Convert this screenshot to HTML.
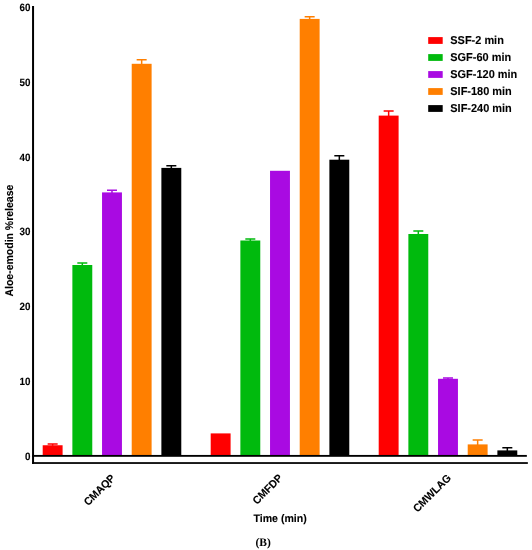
<!DOCTYPE html>
<html><head><meta charset="utf-8"><title>Chart</title>
<style>
html,body{margin:0;padding:0;background:#fff;}
svg{display:block;}
text{text-rendering:geometricPrecision;font-family:"Liberation Sans",Arial,sans-serif;font-weight:bold;fill:#000;}
.serif{font-family:"Liberation Serif","Times New Roman",serif;}
</style></head>
<body>
<svg width="532" height="550" viewBox="0 0 532 550">
<rect width="532" height="550" fill="#fff"/>
<rect x="42.70" y="445.25" width="19.9" height="10.25" fill="#ff0000"/>
<path d="M52.65 445.75V443.95M47.65 443.95H57.65" stroke="#ff0000" stroke-width="1.5" fill="none"/>
<rect x="72.37" y="265.00" width="19.9" height="190.50" fill="#00ba0d"/>
<path d="M82.32 265.50V262.90M77.32 262.90H87.32" stroke="#00ba0d" stroke-width="1.5" fill="none"/>
<rect x="102.04" y="192.40" width="19.9" height="263.10" fill="#a90ae2"/>
<path d="M111.99 192.90V190.30M106.99 190.30H116.99" stroke="#a90ae2" stroke-width="1.5" fill="none"/>
<rect x="131.71" y="63.80" width="19.9" height="391.70" fill="#ff7f00"/>
<path d="M141.66 64.30V59.80M136.66 59.80H146.66" stroke="#ff7f00" stroke-width="1.5" fill="none"/>
<rect x="161.38" y="167.90" width="19.9" height="287.60" fill="#000000"/>
<path d="M171.33 168.40V165.80M166.33 165.80H176.33" stroke="#000000" stroke-width="1.5" fill="none"/>
<rect x="210.70" y="433.40" width="19.9" height="22.10" fill="#ff0000"/>
<rect x="240.37" y="240.50" width="19.9" height="215.00" fill="#00ba0d"/>
<path d="M250.32 241.00V238.90M245.32 238.90H255.32" stroke="#00ba0d" stroke-width="1.5" fill="none"/>
<rect x="270.04" y="170.80" width="19.9" height="284.70" fill="#a90ae2"/>
<rect x="299.71" y="18.90" width="19.9" height="436.60" fill="#ff7f00"/>
<path d="M309.66 19.40V16.80M304.66 16.80H314.66" stroke="#ff7f00" stroke-width="1.5" fill="none"/>
<rect x="329.38" y="159.70" width="19.9" height="295.80" fill="#000000"/>
<path d="M339.33 160.20V155.80M334.33 155.80H344.33" stroke="#000000" stroke-width="1.5" fill="none"/>
<rect x="378.70" y="115.60" width="19.9" height="339.90" fill="#ff0000"/>
<path d="M388.65 116.10V111.00M383.65 111.00H393.65" stroke="#ff0000" stroke-width="1.5" fill="none"/>
<rect x="408.37" y="234.00" width="19.9" height="221.50" fill="#00ba0d"/>
<path d="M418.32 234.50V230.90M413.32 230.90H423.32" stroke="#00ba0d" stroke-width="1.5" fill="none"/>
<rect x="438.04" y="378.80" width="19.9" height="76.70" fill="#a90ae2"/>
<path d="M447.99 379.30V378.00M442.99 378.00H452.99" stroke="#a90ae2" stroke-width="1.5" fill="none"/>
<rect x="467.71" y="444.40" width="19.9" height="11.10" fill="#ff7f00"/>
<path d="M477.66 444.90V440.00M472.66 440.00H482.66" stroke="#ff7f00" stroke-width="1.5" fill="none"/>
<rect x="497.38" y="450.40" width="19.9" height="5.10" fill="#000000"/>
<path d="M507.33 450.90V447.70M502.33 447.70H512.33" stroke="#000000" stroke-width="1.5" fill="none"/>
<!-- axes -->
<rect x="32.05" y="6.0" width="2" height="457.9" fill="#000"/>
<rect x="32.05" y="454.95" width="494.8" height="1.85" fill="#000"/>
<rect x="32.05" y="462.15" width="495.8" height="1.75" fill="#000"/>
<text transform="translate(30.45,459.80) scale(0.9333,1)" font-size="10.5" text-anchor="end" stroke="#000" stroke-width="0.1">0</text>
<text transform="translate(30.45,385.02) scale(0.9333,1)" font-size="10.5" text-anchor="end" stroke="#000" stroke-width="0.1">10</text>
<text transform="translate(30.45,310.24) scale(0.9333,1)" font-size="10.5" text-anchor="end" stroke="#000" stroke-width="0.1">20</text>
<text transform="translate(30.45,235.46) scale(0.9333,1)" font-size="10.5" text-anchor="end" stroke="#000" stroke-width="0.1">30</text>
<text transform="translate(30.45,160.68) scale(0.9333,1)" font-size="10.5" text-anchor="end" stroke="#000" stroke-width="0.1">40</text>
<text transform="translate(30.45,85.90) scale(0.9333,1)" font-size="10.5" text-anchor="end" stroke="#000" stroke-width="0.1">50</text>
<text transform="translate(30.45,11.12) scale(0.9333,1)" font-size="10.5" text-anchor="end" stroke="#000" stroke-width="0.1">60</text>
<text transform="translate(13.20,240.60) rotate(-90) scale(0.9375,1)" font-size="11.2" text-anchor="middle" stroke="#000" stroke-width="0.1">Aloe-emodin %release</text>
<rect x="428.2" y="37.1" width="14.5" height="6.8" fill="#ff0000"/>
<text transform="translate(450.30,44.20) scale(0.9522,1)" font-size="11.5" text-anchor="start" stroke="#000" stroke-width="0.1">SSF-2 min</text>
<rect x="428.2" y="54.1" width="14.5" height="6.8" fill="#00ba0d"/>
<text transform="translate(450.30,61.20) scale(0.9522,1)" font-size="11.5" text-anchor="start" stroke="#000" stroke-width="0.1">SGF-60 min</text>
<rect x="428.2" y="71.1" width="14.5" height="6.8" fill="#a90ae2"/>
<text transform="translate(450.30,78.20) scale(0.9522,1)" font-size="11.5" text-anchor="start" stroke="#000" stroke-width="0.1">SGF-120 min</text>
<rect x="428.2" y="88.1" width="14.5" height="6.8" fill="#ff7f00"/>
<text transform="translate(450.30,95.20) scale(0.9522,1)" font-size="11.5" text-anchor="start" stroke="#000" stroke-width="0.1">SIF-180 min</text>
<rect x="428.2" y="105.1" width="14.5" height="6.8" fill="#000000"/>
<text transform="translate(450.30,112.20) scale(0.9522,1)" font-size="11.5" text-anchor="start" stroke="#000" stroke-width="0.1">SIF-240 min</text>
<text transform="translate(115.80,478.70) rotate(-45) scale(0.9633,1)" font-size="10.9" text-anchor="end" stroke="#000" stroke-width="0.1">CMAQP</text>
<text transform="translate(283.30,478.60) rotate(-45) scale(0.9633,1)" font-size="10.9" text-anchor="end" stroke="#000" stroke-width="0.1">CMFDP</text>
<text transform="translate(451.70,478.60) rotate(-45) scale(0.9633,1)" font-size="10.9" text-anchor="end" stroke="#000" stroke-width="0.1">CMWLAG</text>
<text transform="translate(253.40,521.50) scale(0.9636,1)" font-size="11.0" text-anchor="start" stroke="#000" stroke-width="0.1">Time (min)</text>
<text class="serif" transform="translate(255.50,545.70) scale(1.0000,1)" font-size="11.5" text-anchor="start" stroke="#000" stroke-width="0">(B)</text>
</svg>
</body></html>
